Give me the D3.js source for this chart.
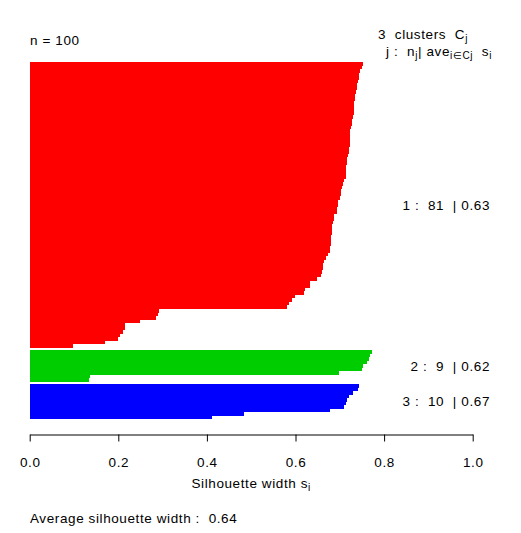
<!DOCTYPE html>
<html>
<head>
<meta charset="utf-8">
<script src="https://cdn.jsdelivr.net/npm/d3@7"></script>
<style>
  body { margin: 0; background: #fff; }
  svg text { font-family: "Liberation Sans", Arial, sans-serif; font-size: 13.5px; letter-spacing: 0.6px; fill: #000; white-space: pre; }
</style>
</head>
<body>
<svg id="chart" width="521" height="533"></svg>
<script>
// silhouette widths per cluster, sorted descending
const clusterIds = [1, 2, 3];
const sil1 = [
  0.752, 0.751, 0.746, 0.744, 0.743, 0.740, 0.739, 0.738, 0.736, 0.734,
  0.734, 0.733, 0.733, 0.733, 0.732, 0.730, 0.728, 0.727, 0.725, 0.724,
  0.724, 0.723, 0.722, 0.722, 0.720, 0.720, 0.718, 0.717, 0.716, 0.715,
  0.715, 0.715, 0.713, 0.709, 0.707, 0.705, 0.702, 0.702, 0.700, 0.695,
  0.695, 0.693, 0.693, 0.686, 0.686, 0.684, 0.682, 0.682, 0.682, 0.680,
  0.680, 0.680, 0.678, 0.678, 0.673, 0.668, 0.664, 0.662, 0.662, 0.660,
  0.658, 0.648, 0.632, 0.632, 0.622, 0.620, 0.599, 0.593, 0.585, 0.581,
  0.291, 0.289, 0.284, 0.249, 0.215, 0.215, 0.210, 0.204, 0.200, 0.170,
  0.097
];
const sil2 = [0.773, 0.769, 0.767, 0.761, 0.753, 0.750, 0.698, 0.135, 0.133];
const sil3 = [0.743, 0.741, 0.730, 0.721, 0.716, 0.714, 0.710, 0.678, 0.484, 0.412];
const clusterAve = [0.63, 0.62, 0.67];
const avgWidth = 0.64;
const xTicks = [0, 0.2, 0.4, 0.6, 0.8, 1.0];

const silByCluster = [sil1, sil2, sil3];
const nTotal = d3.sum(silByCluster, (d) => d.length);

// 配置
const gap = 0.65; // space between clusters, in bar heights
const color = d3.scaleOrdinal().domain(clusterIds).range(["#ff0000", "#00cd00", "#0000ff"]);

// 逐行位置
const rows = [];
let pos = 0;
silByCluster.forEach((vals, k) => {
  if (k > 0) pos += gap;
  vals.forEach((v) => {
    rows.push({ cluster: clusterIds[k], value: v, pos: pos });
    pos += 1;
  });
});
const totalUnits = pos;

const x = d3.scaleLinear().domain([0, 1]).range([29.7, 472.7]);
const y = d3.scaleLinear().domain([0, totalUnits]).range([62, 419]);

const svg = d3.select("#chart");

// bars
svg
  .append("g")
  .selectAll("rect")
  .data(rows)
  .join("rect")
  .attr("x", x(0))
  .attr("y", (d) => y(d.pos))
  .attr("width", (d) => x(d.value) - x(0))
  .attr("height", (d) => y(d.pos + 1) - y(d.pos) + 0.3)
  .attr("fill", (d) => color(d.cluster))
  .attr("shape-rendering", "crispEdges");

// x axis
const xAxis = svg
  .append("g")
  .attr("transform", "translate(0,434.5)")
  .call(
    d3.axisBottom(x)
      .tickValues(xTicks)
      .tickFormat(d3.format(".1f"))
      .tickSize(7)
      .tickSizeOuter(0)
      .tickPadding(15.5)
  );
xAxis.selectAll("path, line").attr("stroke", "#000").attr("stroke-width", 1);
xAxis.selectAll("text").attr("font-size", null).attr("font-family", null);

// axis title with subscript
const xTitle = svg
  .append("text")
  .attr("x", (x(0) + x(1)) / 2)
  .attr("y", 488)
  .attr("text-anchor", "middle");
xTitle.append("tspan").text("Silhouette width s");
xTitle.append("tspan").attr("dy", 3).style("font-size", "10px").text("i");

// bottom note
svg
  .append("text")
  .attr("x", 30)
  .attr("y", 523)
  .text("Average silhouette width :  " + avgWidth.toFixed(2));

// top left
svg.append("text").attr("x", 30).attr("y", 45).text("n = " + nTotal);

// top right headers
const h1 = svg.append("text").attr("x", 468).attr("y", 39).attr("text-anchor", "end");
h1.append("tspan").text(clusterIds.length + "  clusters  C");
h1.append("tspan").attr("dy", 3).style("font-size", "10px").text("j");

const h2 = svg.append("text").attr("x", 492).attr("y", 56).attr("text-anchor", "end");
h2.append("tspan").text("j :  n");
h2.append("tspan").attr("dy", 3).style("font-size", "10px").text("j");
h2.append("tspan").attr("dy", -3).text("| ave");
h2.append("tspan").attr("dy", 3).style("font-size", "10px").text("i\u2208Cj");
h2.append("tspan").attr("dy", -3).text("  s");
h2.append("tspan").attr("dy", 3).style("font-size", "10px").text("i");

// cluster labels at the middle of each cluster
clusterIds.forEach((id, k) => {
  const cr = rows.filter((r) => r.cluster === id);
  const mid = (y(cr[0].pos) + y(cr[cr.length - 1].pos + 1)) / 2;
  svg
    .append("text")
    .attr("x", 490)
    .attr("y", mid + 5)
    .attr("text-anchor", "end")
    .text(id + " :  " + cr.length + "  | " + clusterAve[k].toFixed(2));
});
</script>
</body>
</html>
